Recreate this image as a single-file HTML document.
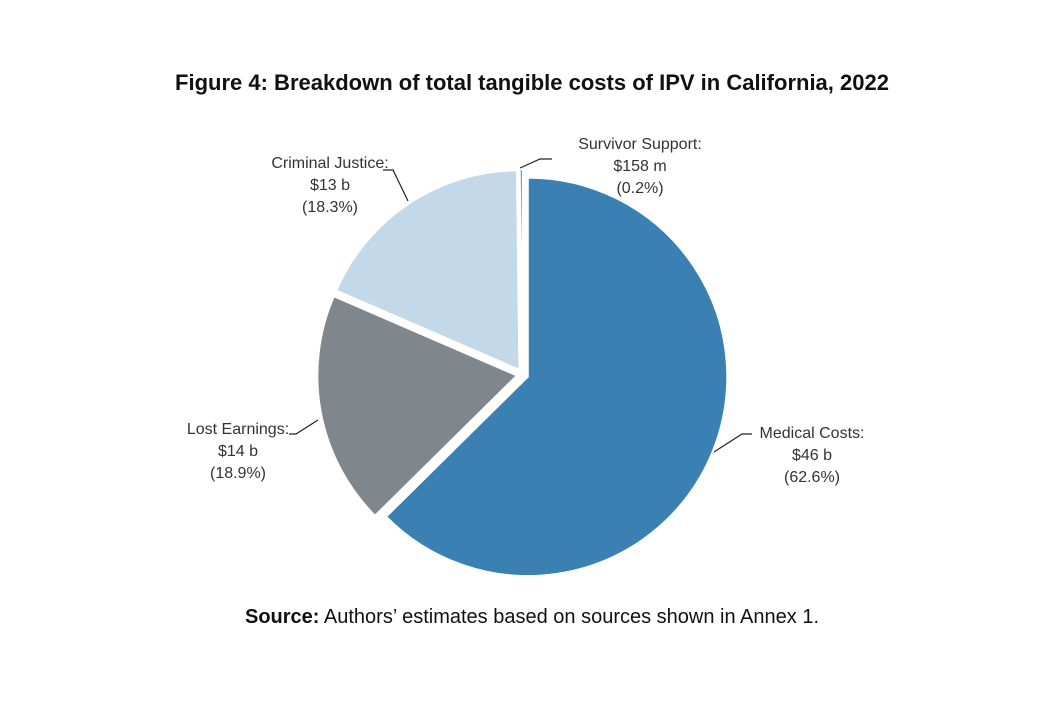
<!DOCTYPE html>
<html><head><meta charset="utf-8"><style>
body{margin:0;background:#fff;width:1064px;height:706px;overflow:hidden;font-family:"Liberation Sans",sans-serif}
.t{position:absolute;white-space:nowrap}
</style></head><body>
<div class="t" style="left:0;width:1064px;text-align:center;top:70px;font-weight:bold;font-size:22px;color:#111">Figure 4: Breakdown of total tangible costs of IPV in California, 2022</div>
<svg id="pie" width="1064" height="706" style="position:absolute;left:0;top:0"></svg>
<div class="t" style="left:0;width:1064px;text-align:center;top:606px;font-size:20px;color:#111"><b>Source:</b> Authors’ estimates based on sources shown in Annex 1.</div>
<script>
const categories=["Medical Costs","Lost Earnings","Criminal Justice","Survivor Support"];
const values=[62.6,18.9,18.3,0.2];
const amounts=["$46 b","$14 b","$13 b","$158 m"];
const colors=["#3a80b2","#7f868c","#c3d8e8","#3a80b2"];
const svg=document.getElementById('pie');
const NS="http://www.w3.org/2000/svg";
const cx=522.5,cy=374.5,r=199,ex=6;
const total=values.reduce((a,b)=>a+b,0);
function pt(x,y,a,rr){return [x+rr*Math.sin(a),y-rr*Math.cos(a)];}
let a0=0;
values.forEach((v,i)=>{
  const a1=a0+v/total*2*Math.PI, m=(a0+a1)/2;
  const ox=cx+ex*Math.sin(m), oy=cy-ex*Math.cos(m);
  const p0=pt(ox,oy,a0,r),p1=pt(ox,oy,a1,r);
  const p=document.createElementNS(NS,'path');
  p.setAttribute('d',`M${ox},${oy}L${p0[0]},${p0[1]}A${r},${r} 0 ${a1-a0>Math.PI?1:0} 1 ${p1[0]},${p1[1]}Z`);
  p.setAttribute('fill',colors[i]);p.setAttribute('stroke','#fff');p.setAttribute('stroke-width','1.5');
  
  
  svg.appendChild(p);
  a0=a1;
});
const labels=[
 {x:812,y:438,lines:[[0,"Medical Costs:"],[0,"$46 b"],[0,"(62.6%)"]],ld:"M714,452 L742,434 L752,434"},
 {x:238,y:434,lines:[[0,"Lost Earnings:"],[0,"$14 b"],[0,"(18.9%)"]],ld:"M289,434 L296,434 L318,420"},
 {x:330,y:168,lines:[[0,"Criminal Justice:"],[0,"$13 b"],[0,"(18.3%)"]],ld:"M383,170 L393,170 L408,201"},
 {x:640,y:149,lines:[[0,"Survivor Support:"],[0,"$158 m"],[0,"(0.2%)"]],ld:"M520,168 L540,159 L552,159"}
];
labels.forEach((L,i)=>{
  const l=document.createElementNS(NS,'path');
  l.setAttribute('d',L.ld);l.setAttribute('stroke','#222');l.setAttribute('fill','none');l.setAttribute('stroke-width','1.2');
  
  
  svg.appendChild(l);
  const t=document.createElementNS(NS,'text');
  t.setAttribute('x',L.x);t.setAttribute('y',L.y);t.setAttribute('text-anchor','middle');
  t.setAttribute('font-size','16');t.setAttribute('fill','#333');t.setAttribute('font-family','Liberation Sans, sans-serif');
  
  
  const txt=[categories[i]+":",amounts[i],"("+values[i].toFixed(1)+"%)"];
  txt.forEach((s,j)=>{const ts=document.createElementNS(NS,'tspan');ts.setAttribute('x',L.x);ts.setAttribute('dy',j?22:0);ts.textContent=s;t.appendChild(ts);});
  svg.appendChild(t);
});
</script>
</body></html>
